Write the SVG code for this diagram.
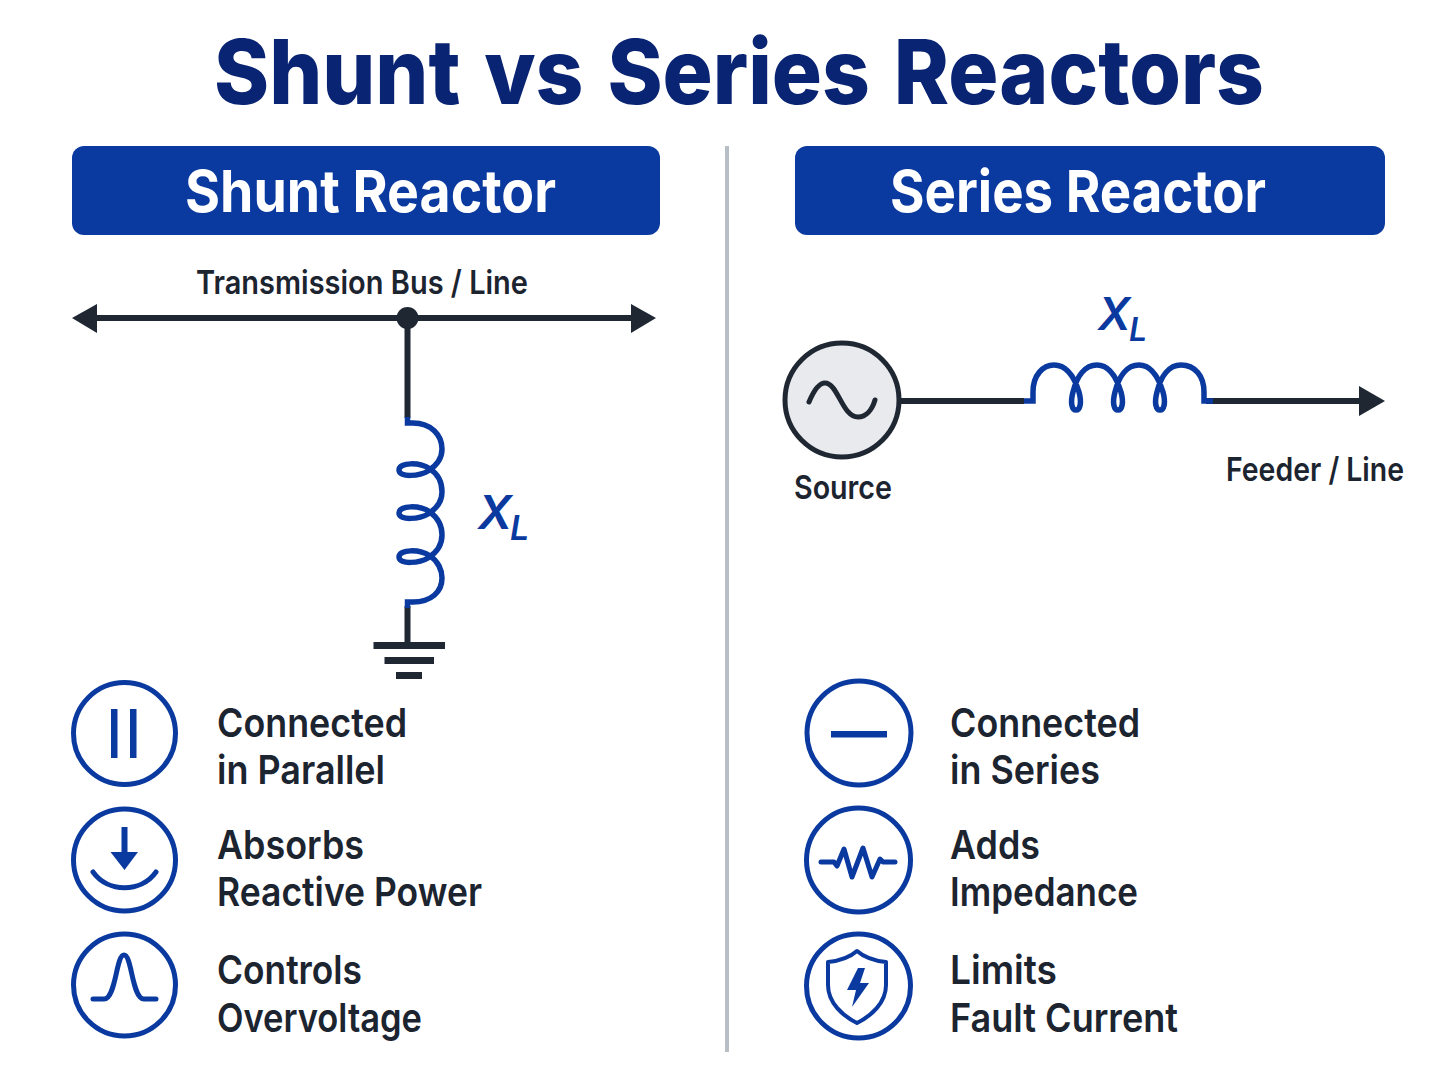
<svg xmlns="http://www.w3.org/2000/svg" width="1448" height="1086" viewBox="0 0 1448 1086">
<style>
text{font-family:"Inter","Liberation Sans",sans-serif}
.title{font-size:90px;font-weight:800;fill:#0a2474;word-spacing:6px}
.head{font-size:58px;font-weight:700;fill:#fff}
.lab{font-size:33px;font-weight:600;fill:#1c2430}
.item{font-size:40px;font-weight:600;fill:#1c2430}
.x{font-style:italic;font-weight:600;fill:#0a3a9f}
.wire{fill:none;stroke:#1f2733;stroke-width:6}
.coil{fill:none;stroke:#0a3a9f;stroke-width:5.500}
.ring{fill:#fff;stroke:#0a3a9f;stroke-width:5}
.ico{fill:none;stroke:#0a3a9f;stroke-width:5;stroke-linecap:round;stroke-linejoin:round}
.bar{fill:#0a3a9f}
.dark{fill:#1f2733}
</style>
<rect width="1448" height="1086" fill="#fff"/>
<text id="title" class="title" x="214" y="104" textLength="1050" lengthAdjust="spacingAndGlyphs">Shunt vs Series Reactors</text>
<line x1="727" y1="146" x2="727" y2="1052" stroke="#b7bec6" stroke-width="4"/>
<g id="shunt-header"><rect x="72" y="146" width="588" height="89" rx="12" fill="#0a3a9f"/><text class="head" x="185" y="212" textLength="371" lengthAdjust="spacingAndGlyphs">Shunt Reactor</text></g>
<g id="series-header"><rect x="795" y="146" width="590" height="89" rx="12" fill="#0a3a9f"/><text class="head" x="890" y="212" textLength="376" lengthAdjust="spacingAndGlyphs">Series Reactor</text></g>
<g id="connectors">
<path class="wire" d="M95 318H633"/>
<path class="dark" d="M72 318L97 304V333Z"/>
<path class="dark" d="M656 318L631 304V333Z"/>
<path class="wire" d="M407.500 318V418"/>
<path class="wire" d="M407.500 606V645"/>
<path class="wire" d="M900 401H1024"/>
<path class="wire" d="M1206 401H1362"/>
<path class="dark" d="M1385 401L1359 386V416Z"/>
</g>
<g id="bus-label"><text class="lab" x="196" y="294" textLength="332" lengthAdjust="spacingAndGlyphs">Transmission Bus / Line</text></g>
<g id="junction"><circle cx="407.500" cy="318" r="11" class="dark"/></g>
<g id="shunt-inductor">
<path class="coil" d="M407.500 417V423H413C431 423 442 435 442 449C442 458 436 466 428 471C420 476 399 478 399 470C399 462 420 462 430 469C438 474 442 482 442 492C442 502 436 509 428 514C420 519 399 521 399 513C399 505 420 505 430 512C438 518 442 526 442 535C442 546 436 553 428 558C420 563 399 565 399 557C399 549 420 549 430 556C438 561 442 570 442 578C442 592 431 602 413 602H407.500V608"/>
<text class="x" x="478" y="529" font-size="47">X</text><text class="x" x="510" y="540" font-size="34">L</text>
</g>
<g id="ground" class="dark"><rect x="373.500" y="642" width="71.500" height="7"/><rect x="384.500" y="657" width="49.500" height="7"/><rect x="396" y="672" width="26" height="7"/></g>
<g id="source"><circle cx="842" cy="400" r="57" fill="#e9eaee" stroke="#1f2733" stroke-width="5"/>
<path d="M809 402C814 390 819 383 825 383C838 383 842 417 858 417C866 417 872 410 875 400" fill="none" stroke="#1f2733" stroke-width="5" stroke-linecap="round"/>
<text class="lab" x="794" y="499" textLength="98" lengthAdjust="spacingAndGlyphs">Source</text></g>
<g id="series-inductor">
<path class="coil" d="M1024 401H1033V392C1033 375 1043 365 1054 365C1066 365 1074 376 1079 392C1082 403 1080 410 1076 410C1072 410 1070 403 1073 392C1077 376 1085 365 1097 365C1109 365 1116 376 1121 392C1124 403 1122 410 1118 410C1114 410 1112 403 1115 392C1119 376 1127 365 1139 365C1151 365 1158 376 1163 392C1166 403 1164 410 1160 410C1156 410 1154 403 1157 392C1161 376 1169 365 1181 365C1195 365 1204 376 1204 392V401H1213"/>
<text class="x" x="1098" y="330" font-size="45">X</text><text class="x" x="1129" y="341" font-size="32">L</text>
</g>
<g id="feeder-label"><text class="lab" x="1226" y="481" textLength="178" lengthAdjust="spacingAndGlyphs">Feeder / Line</text></g>
<g id="item-parallel"><circle class="ring" cx="124.500" cy="733.500" r="51"/><rect class="bar" x="111" y="709" width="6.500" height="49"/><rect class="bar" x="130" y="709" width="6.500" height="49"/>
<text class="item" x="217" y="737" textLength="190" lengthAdjust="spacingAndGlyphs">Connected</text><text class="item" x="217" y="784" textLength="168" lengthAdjust="spacingAndGlyphs">in Parallel</text></g>
<g id="item-absorbs"><circle class="ring" cx="124.500" cy="860" r="51"/><rect class="bar" x="121.500" y="827" width="6" height="26"/><path class="bar" d="M110.500 852H138L124.500 870Z"/><path class="ico" d="M93 872C108 893 141 893 156 872"/>
<text class="item" x="217" y="859" textLength="147" lengthAdjust="spacingAndGlyphs">Absorbs</text><text class="item" x="217" y="906" textLength="265" lengthAdjust="spacingAndGlyphs">Reactive Power</text></g>
<g id="item-overvoltage"><circle class="ring" cx="124.500" cy="985" r="51"/><path class="ico" d="M93 999H104C116 999 116 955 124 955C132 955 132 999 144 999H156"/>
<text class="item" x="217" y="984" textLength="145" lengthAdjust="spacingAndGlyphs">Controls</text><text class="item" x="217" y="1032" textLength="205" lengthAdjust="spacingAndGlyphs">Overvoltage</text></g>
<g id="item-series"><circle class="ring" cx="859" cy="733" r="52"/><rect class="bar" x="831" y="731" width="56" height="6.500"/>
<text class="item" x="950" y="737" textLength="190" lengthAdjust="spacingAndGlyphs">Connected</text><text class="item" x="950" y="784" textLength="150" lengthAdjust="spacingAndGlyphs">in Series</text></g>
<g id="item-impedance"><circle class="ring" cx="858.500" cy="860" r="52"/><path class="ico" d="M821 862H834L837 866L844 849L852 877L863 848L872 877L880 859L883 862H895"/>
<text class="item" x="950" y="859" textLength="90" lengthAdjust="spacingAndGlyphs">Adds</text><text class="item" x="950" y="906" textLength="188" lengthAdjust="spacingAndGlyphs">Impedance</text></g>
<g id="item-fault"><circle class="ring" cx="858.500" cy="986" r="52"/><path d="M857 951C849 958 838 961 828 962V985C828 1003 843 1016 857 1023C871 1016 886 1003 886 985V962C876 961 865 958 857 951Z" fill="none" stroke="#0a3a9f" stroke-width="4" stroke-linejoin="round"/><path class="bar" d="M858 968H865L860 983H869L852 1007L856 990H847Z"/>
<text class="item" x="950" y="984" textLength="107" lengthAdjust="spacingAndGlyphs">Limits</text><text class="item" x="950" y="1032" textLength="228" lengthAdjust="spacingAndGlyphs">Fault Current</text></g>
</svg>
